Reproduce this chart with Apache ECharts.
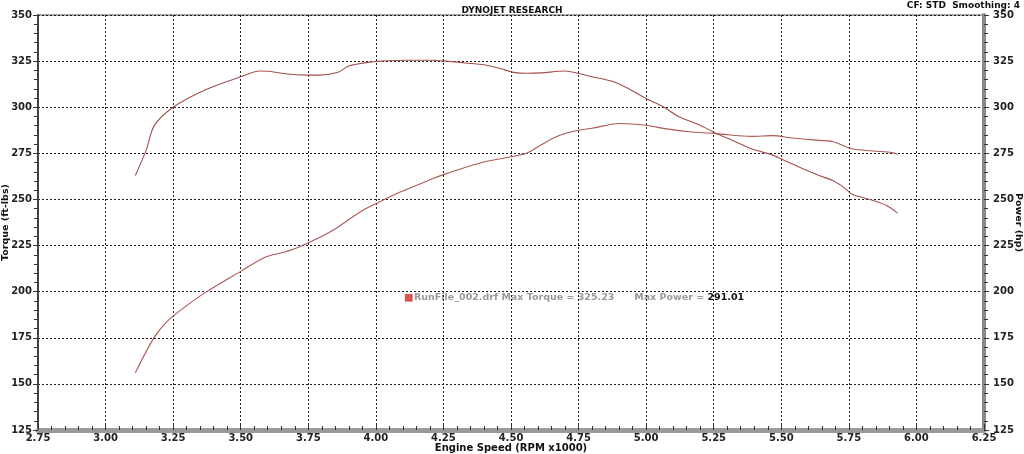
<!DOCTYPE html>
<html lang="en">
<head>
<meta charset="UTF-8">
<title>Dynojet</title>
<style>
  html, body { margin: 0; padding: 0; background: #fff; }
  #chart { width: 1024px; height: 454px; }
</style>
</head>
<body>
<div id="chart"></div>
<script src="https://cdn.jsdelivr.net/npm/echarts@6/dist/echarts.min.js"></script>
<script>
// torque curve (ft-lbs) vs engine speed (RPM x1000)
var torqueRpm = [3.11, 3.15, 3.18, 3.25, 3.37, 3.50, 3.57, 3.61, 3.67, 3.74, 3.79, 3.86, 3.90, 3.97, 4.04, 4.11, 4.21, 4.26, 4.33, 4.40, 4.46, 4.51, 4.56, 4.61, 4.70, 4.75, 4.80, 4.88, 4.94, 5.00, 5.06, 5.12, 5.20, 5.26, 5.32, 5.39, 5.47, 5.52, 5.58, 5.64, 5.69, 5.73, 5.76, 5.84, 5.89, 5.93]
var torqueVals = [263, 276.6, 290, 300, 309.5, 316.5, 319.6, 319.4, 318, 317.4, 317.4, 319, 322.3, 324.3, 325.2, 325.5, 325.5, 325, 324, 323, 321, 318.9, 318.4, 318.6, 319.6, 318.3, 316.5, 313.8, 309.6, 304.7, 300.5, 295, 290.2, 285.7, 282, 277.5, 273.9, 270.6, 266.7, 263, 260.3, 256.7, 253, 249.4, 246.7, 242.6]
// power curve (hp)
var powerRpm = [3.11, 3.18, 3.23, 3.30, 3.37, 3.50, 3.59, 3.66, 3.72, 3.84, 3.94, 4.00, 4.09, 4.21, 4.26, 4.40, 4.51, 4.56, 4.61, 4.68, 4.75, 4.80, 4.90, 5.00, 5.07, 5.17, 5.26, 5.39, 5.47, 5.54, 5.64, 5.69, 5.76, 5.84, 5.91, 5.93]
var powerVals = [156, 175.2, 184.2, 192.4, 199.6, 211, 218.7, 221.4, 224.5, 233.2, 243.1, 247.7, 254, 261.2, 264, 270.3, 273.4, 275.2, 279.5, 284.8, 287.5, 288.6, 291.2, 290.2, 288.4, 286.6, 285.7, 284.2, 284.6, 283.3, 282, 281.4, 277.5, 276.3, 275.4, 274.5]
var yTicks = [125, 150, 175, 200, 225, 250, 275, 300, 325, 350]

var maxTorque = '325.23'
var maxPower = '291.01'

function pairs(xs, ys) {
  return xs.map(function (x, i) { return [x, ys[i]] })
}

var font = 'Verdana, "DejaVu Sans", sans-serif'
var chart = echarts.init(document.getElementById('chart'))

var splitDash = { show: true, lineStyle: { color: '#1a1a1a', type: [2, 2], width: 1 } }
var minor = { show: true, splitNumber: 5, length: 4, lineStyle: { color: '#333', width: 1 } }

function yAxis(pos, name, rot, gap) {
  return {
    type: 'value',
    position: pos,
    min: yTicks[0],
    max: yTicks[yTicks.length - 1],
    interval: 25,
    name: name,
    nameLocation: 'middle',
    nameRotate: rot,
    nameGap: gap,
    nameMoveOverlap: false,
    nameTextStyle: { fontFamily: font, fontWeight: 'bold', fontSize: 9.5, color: '#111' },
    axisLine: { show: true, lineStyle: { color: pos == 'left' ? '#444' : '#8a8a8a', width: pos == 'left' ? 2 : 4 } },
    axisTick: { show: true, length: 5, lineStyle: { color: '#333' } },
    minorTick: minor,
    axisLabel: { fontFamily: font, fontWeight: 'bold', fontSize: 10, color: '#222', margin: pos == 'left' ? 6 : 9 },
    splitLine: pos == 'left' ? splitDash : { show: false }
  }
}

var option = {
  backgroundColor: '#fff',
  animation: false,
  title: {
    text: 'DYNOJET RESEARCH',
    left: 'center',
    top: 1,
    textStyle: { fontFamily: font, fontWeight: 'bold', fontSize: 9, color: '#111' }
  },
  grid: {
    left: 38, right: 40, top: 15, bottom: 24,
    outerBoundsMode: 'none',
    containLabel: false,
    show: true, borderColor: '#555', borderWidth: 1
  },
  xAxis: {
    type: 'value',
    min: 2.75,
    max: 6.25,
    interval: 0.25,
    name: 'Engine Speed (RPM x1000)',
    nameLocation: 'middle',
    nameGap: 13,
    nameMoveOverlap: false,
    nameTextStyle: { fontFamily: font, fontWeight: 'bold', fontSize: 10, color: '#111' },
    axisLine: { show: true, lineStyle: { color: '#9a9a9a', width: 5 } },
    axisTick: { show: true, inside: true, length: 6, lineStyle: { color: '#333' } },
    minorTick: { show: true, splitNumber: 5, length: 4, lineStyle: { color: '#333' } },
    axisLabel: {
      fontFamily: font, fontWeight: 'bold', fontSize: 10, color: '#222', margin: 3,
      formatter: function (v) { return v.toFixed(2) }
    },
    splitLine: splitDash
  },
  yAxis: [
    yAxis('left', 'Torque (ft-lbs)', 90, 27),
    yAxis('right', 'Power (hp)', -90, 29)
  ],
  graphic: [
    {
      type: 'text', right: 4, top: 1,
      style: { text: 'CF: STD  Smoothing: 4', font: 'bold 9px ' + font, fill: '#111' }
    },
    {
      type: 'rect', left: 405, top: 294,
      shape: { width: 7, height: 7 },
      style: { fill: '#d9534f', stroke: '#a33', lineWidth: 0.5 }
    },
    {
      type: 'text', left: 414, top: 293,
      style: {
        text: '{g|RunFile_002.drf Max Torque = ' + maxTorque + '      Max Power = }{b|' + maxPower + '}',
        rich: {
          g: { font: 'bold 9.5px ' + font, fill: '#9a9a9a' },
          b: { font: 'bold 9.5px ' + font, fill: '#111' }
        }
      }
    }
  ],
  series: [
    {
      name: 'Torque',
      type: 'line',
      yAxisIndex: 0,
      smooth: 0.3,
      showSymbol: false,
      lineStyle: { color: '#a4504c', width: 1.1 },
      data: pairs(torqueRpm, torqueVals)
    },
    {
      name: 'Power',
      type: 'line',
      yAxisIndex: 1,
      smooth: 0.3,
      showSymbol: false,
      lineStyle: { color: '#ae5853', width: 1.1 },
      data: pairs(powerRpm, powerVals)
    }
  ]
}

chart.setOption(option)
</script>
</body>
</html>
